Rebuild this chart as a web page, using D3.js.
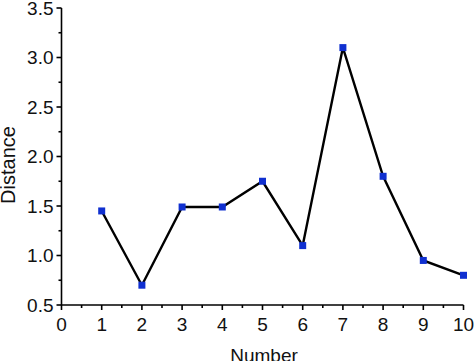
<!DOCTYPE html>
<html><head><meta charset="utf-8">
<script src="https://cdn.jsdelivr.net/npm/d3@7"></script>
<style>body{margin:0;background:#fff}svg{display:block}</style>
</head><body>
<script>
const numbers = [1,2,3,4,5,6,7,8,9,10];
const distances = [1.45,0.70,1.49,1.49,1.75,1.10,3.10,1.80,0.95,0.80];
const xTicks = [0,1,2,3,4,5,6,7,8,9,10];
const yTicks = [0.5,1.0,1.5,2.0,2.5,3.0,3.5];

const W=474,H=361;
const svg=d3.select("body").append("svg").attr("width",W).attr("height",H);
const x=d3.scaleLinear().domain([0,10]).range([61.5,463.5]);
const y=d3.scaleLinear().domain([0.5,3.5]).range([305,8]);
const font="Liberation Sans, Arial, sans-serif";

const xMinor=d3.range(0.5,10,1);
const yMinor=d3.range(0.75,3.5,0.5);
const gx=svg.append("g").attr("transform","translate(0,305)");
gx.append("line").attr("x1",x(0)).attr("x2",x(10)).attr("stroke","#000").attr("stroke-width",1.6);
gx.selectAll(".maj").data(xTicks).join("line").attr("x1",d=>x(d)).attr("x2",d=>x(d)).attr("y1",0).attr("y2",5).attr("stroke","#000").attr("stroke-width",1.6);
gx.selectAll(".min").data(xMinor).join("line").attr("x1",d=>x(d)).attr("x2",d=>x(d)).attr("y1",0).attr("y2",3).attr("stroke","#000").attr("stroke-width",1.6);
gx.selectAll("text").data(xTicks).join("text").attr("x",d=>x(d)).attr("y",25.5).attr("text-anchor","middle")
  .attr("font-family",font).attr("font-size",19).attr("fill","#111").text(d=>d);

const gy=svg.append("g").attr("transform","translate(61.5,0)");
gy.append("line").attr("y1",y(0.5)).attr("y2",y(3.5)).attr("stroke","#000").attr("stroke-width",1.6);
gy.selectAll(".maj").data(yTicks).join("line").attr("y1",d=>y(d)).attr("y2",d=>y(d)).attr("x1",0).attr("x2",-5).attr("stroke","#000").attr("stroke-width",1.6);
gy.selectAll(".min").data(yMinor).join("line").attr("y1",d=>y(d)).attr("y2",d=>y(d)).attr("x1",0).attr("x2",-3).attr("stroke","#000").attr("stroke-width",1.6);
gy.selectAll("text").data(yTicks).join("text").attr("x",-8).attr("y",d=>y(d)).attr("dy","0.36em").attr("text-anchor","end")
  .attr("font-family",font).attr("font-size",19).attr("fill","#111").text(d=>d.toFixed(1));

svg.append("text").attr("transform","translate(15,165) rotate(-90)").attr("text-anchor","middle")
  .attr("font-family",font).attr("font-size",20).attr("fill","#111").text("Distance");
svg.append("text").attr("x",264).attr("y",362).attr("text-anchor","middle")
  .attr("font-family",font).attr("font-size",19).attr("fill","#111").text("Number");

const data=numbers.map((n,i)=>({n,d:distances[i]}));
svg.append("path").datum(data).attr("fill","none").attr("stroke","#000").attr("stroke-width",2.4)
  .attr("d",d3.line().x(d=>x(d.n)).y(d=>y(d.d)));
svg.selectAll(".pt").data(data).join("rect").attr("x",d=>x(d.n)-3.5).attr("y",d=>y(d.d)-3.5)
  .attr("width",7).attr("height",7).attr("fill","#1030d0");
</script>
</body></html>
